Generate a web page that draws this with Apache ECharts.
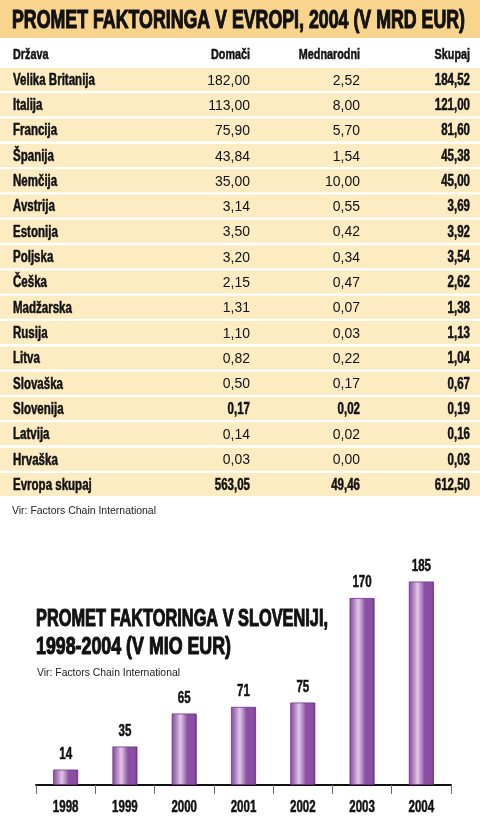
<!DOCTYPE html>
<html>
<head>
<meta charset="utf-8">
<script src="https://cdn.jsdelivr.net/npm/echarts@6/dist/echarts.min.js"></script>
<style>
html, body { margin: 0; padding: 0; background: #fff; }
#chart { width: 480px; height: 829px; }
</style>
</head>
<body>
<div id="chart"></div>
<script>
// --- table data (v mrd EUR) ---
var headers = ['Država', 'Domači', 'Mednarodni', 'Skupaj'];
var countries = ['Velika Britanija', 'Italija', 'Francija', 'Španija', 'Nemčija', 'Avstrija',
    'Estonija', 'Poljska', 'Češka', 'Madžarska', 'Rusija', 'Litva', 'Slovaška', 'Slovenija',
    'Latvija', 'Hrvaška', 'Evropa skupaj'];
var domaci = [182.00, 113.00, 75.90, 43.84, 35.00, 3.14, 3.50, 3.20, 2.15, 1.31, 1.10, 0.82, 0.50, 0.17, 0.14, 0.03, 563.05];
var mednarodni = [2.52, 8.00, 5.70, 1.54, 10.00, 0.55, 0.42, 0.34, 0.47, 0.07, 0.03, 0.22, 0.17, 0.02, 0.02, 0.00, 49.46];
var skupaj = [184.52, 121.00, 81.60, 45.38, 45.00, 3.69, 3.92, 3.54, 2.62, 1.38, 1.13, 1.04, 0.67, 0.19, 0.16, 0.03, 612.50];
var boldRows = ['Slovenija', 'Evropa skupaj'];

// --- bar chart data (v mio EUR) ---
var years = ['1998', '1999', '2000', '2001', '2002', '2003', '2004'];
var turnover = [14, 35, 65, 71, 75, 170, 185];

var title1 = 'PROMET FAKTORINGA V EVROPI, 2004 (V MRD EUR)';
var title2a = 'PROMET FAKTORINGA V SLOVENIJI,';
var title2b = '1998-2004 (V MIO EUR)';
var source = 'Vir: Factors Chain International';

// layout
var FONT = 'Liberation Sans';
var colAnchor = [13, 250, 360, 470];
var ROW_BG = '#fdebc2';
var BAR_BG = '#f9d48c';
var INK = '#111';

var mctx = document.createElement('canvas').getContext('2d');
function fit(text, font, width) {
    mctx.font = font;
    return width / mctx.measureText(text).width;
}
function fmt(v) {
    return v.toFixed(2).replace('.', ',');
}
// heavy condensed look: bold face, squeezed, with a thin stroke
function heavy(text, size, extra) {
    var s = { text: text, fontSize: size, fontWeight: 'bold', fontFamily: FONT, fill: INK,
        stroke: INK, lineWidth: 0.7 };
    for (var key in extra) s[key] = extra[key];
    return s;
}

function titleText(x, y, text, size, bold, width) {
    var font = (bold ? 'bold ' : '') + size + 'px ' + FONT;
    var style = bold ? heavy(text, size, { lineWidth: 1.1, verticalAlign: 'middle' }) :
        { text: text, fontSize: size, fontFamily: FONT, fill: '#222', verticalAlign: 'middle' };
    return { type: 'text', x: x, y: y, scaleX: fit(text, font, width), style: style };
}

var rowIdx = [];
for (var i = 0; i <= countries.length; i++) rowIdx.push([0, i]);

var chart = echarts.init(document.getElementById('chart'));
chart.setOption({
    animation: false,
    backgroundColor: '#fff',
    graphic: [
        { type: 'rect', shape: { x: 0, y: 0, width: 480, height: 38 }, style: { fill: BAR_BG } },
        titleText(12, 21, title1, 25, true, 453),
        titleText(12, 511, source, 11, false, 144),
        titleText(36, 619, title2a, 24, true, 292),
        titleText(36, 647, title2b, 24, true, 195),
        titleText(37, 673, source, 11, false, 143)
    ],
    grid: [
        { left: 0, right: 0, top: 41.5, height: 455.6 },
        { left: 36, right: 29, top: 565, bottom: 44 }
    ],
    xAxis: [
        { gridIndex: 0, type: 'value', min: 0, max: 480, show: false },
        {
            gridIndex: 1, type: 'category', data: years,
            axisLine: { show: true, lineStyle: { color: INK, width: 2 } },
            axisTick: { show: true, interval: 0, length: 9, lineStyle: { color: '#6a6a6a', width: 1 } },
            axisLabel: { show: false }
        }
    ],
    yAxis: [
        { gridIndex: 0, type: 'category', inverse: true, show: false,
          data: ['header'].concat(countries) },
        { gridIndex: 1, type: 'value', min: 0, max: 200, show: false }
    ],
    series: [
        {
            type: 'custom', xAxisIndex: 0, yAxisIndex: 0,
            encode: { x: 0, y: 1 },
            data: rowIdx,
            renderItem: function (params, api) {
                var r = api.value(1);
                var cy = api.coord([0, r])[1];
                var children = [];
                var cells, name = null;
                if (r === 0) {
                    cells = headers;
                } else {
                    var k = r - 1;
                    name = countries[k];
                    children.push({ type: 'rect', shape: { x: 0, y: cy - 11.5, width: 480, height: 23 },
                        style: { fill: ROW_BG } });
                    cells = [name, fmt(domaci[k]), fmt(mednarodni[k]), fmt(skupaj[k])];
                }
                for (var c = 0; c < 4; c++) {
                    var bold = r === 0 || c === 0 || c === 3 || boldRows.indexOf(name) >= 0;
                    var align = c === 0 ? 'left' : 'right';
                    var size = r === 0 ? 15 : 16;
                    children.push({
                        type: 'text',
                        x: api.coord([colAnchor[c], r])[0], y: cy + 1,
                        scaleX: bold ? 0.72 : 0.93,
                        style: bold ? heavy(cells[c], size, { align: align, verticalAlign: 'middle', lineWidth: 0.5 }) : {
                            text: cells[c], align: align, verticalAlign: 'middle',
                            fontSize: 15, fontFamily: FONT, fill: INK
                        }
                    });
                }
                return { type: 'group', children: children };
            }
        },
        {
            type: 'bar', xAxisIndex: 1, yAxisIndex: 1, data: turnover, barWidth: 25,
            itemStyle: {
                borderColor: '#6e3089', borderWidth: 0.8,
                color: new echarts.graphic.LinearGradient(0, 0, 1, 0, [
                    { offset: 0, color: '#86489f' },
                    { offset: 0.15, color: '#a77bb9' },
                    { offset: 0.35, color: '#e4c6e9' },
                    { offset: 0.5, color: '#b189c2' },
                    { offset: 0.62, color: '#8b50a4' },
                    { offset: 0.9, color: '#8a4fa3' },
                    { offset: 1, color: '#6c2c88' }
                ])
            }
        },
        {
            // value labels above bars and year labels under the axis
            type: 'custom', xAxisIndex: 1, yAxisIndex: 1,
            data: turnover.map(function (v, i) { return [i, v]; }),
            encode: { x: 0, y: 1 },
            renderItem: function (params, api) {
                var i = api.value(0);
                var top = api.coord([i, api.value(1)]);
                var base = api.coord([i, 0]);
                return {
                    type: 'group',
                    children: [
                        { type: 'text', x: top[0], y: top[1] - 15, scaleX: 0.72,
                          style: heavy(String(api.value(1)), 16, { align: 'center', verticalAlign: 'middle', lineWidth: 0.5 }) },
                        { type: 'text', x: base[0], y: base[1] + 23, scaleX: 0.72,
                          style: heavy(years[i], 16, { align: 'center', verticalAlign: 'middle', lineWidth: 0.5 }) }
                    ]
                };
            }
        }
    ]
});
</script>
</body>
</html>
